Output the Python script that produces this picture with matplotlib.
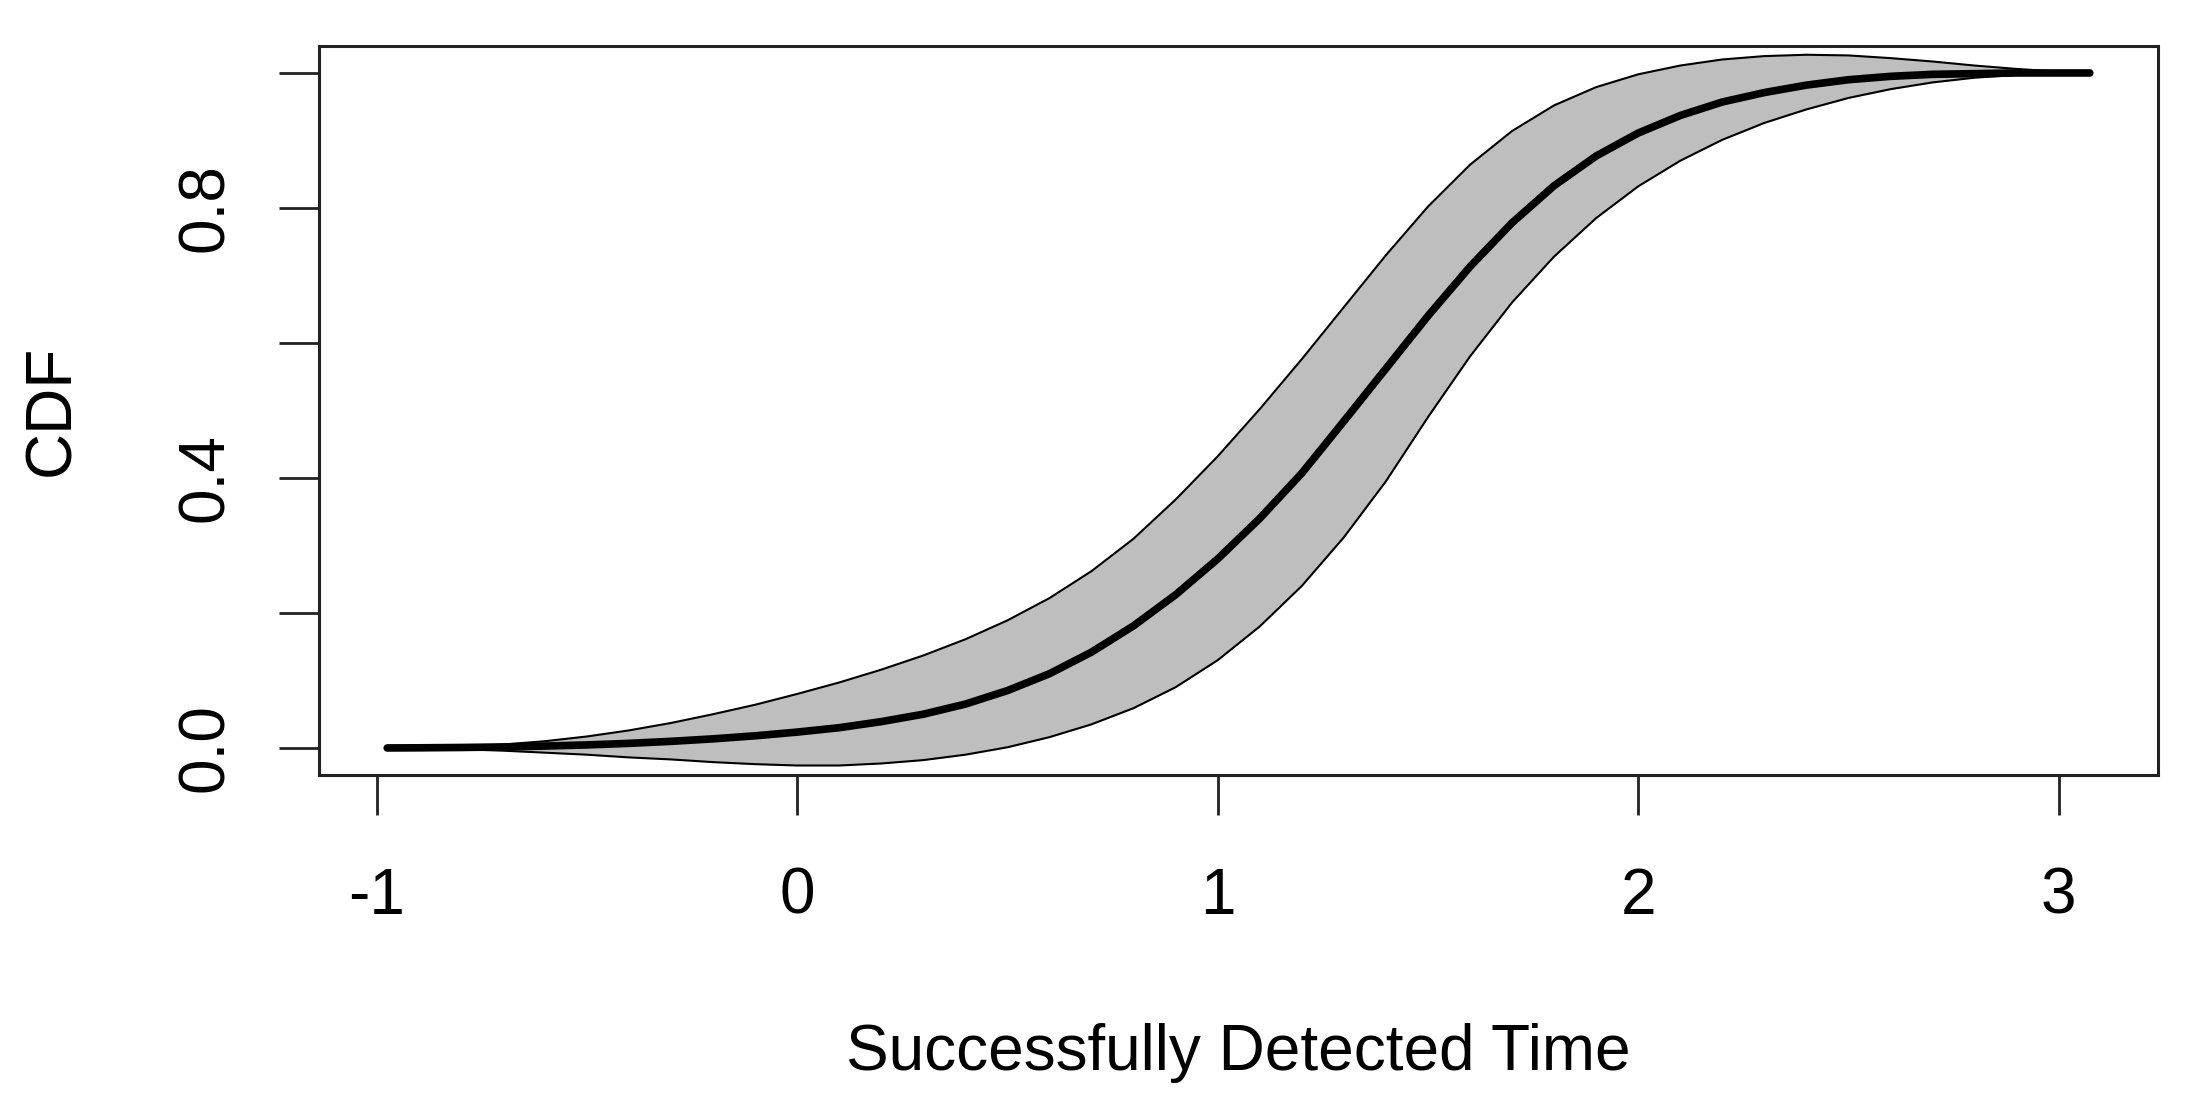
import numpy as np
import matplotlib
matplotlib.use("Agg")
import matplotlib.pyplot as plt

plt.rcParams["font.family"] = ["Liberation Sans", "DejaVu Sans"]

# Values
time = [-0.975, -0.9, -0.8, -0.7, -0.6, -0.5, -0.4, -0.3, -0.2, -0.1,
        0.0, 0.1, 0.2, 0.3, 0.4, 0.5, 0.6, 0.7, 0.8, 0.9,
        1.0, 1.1, 1.2, 1.3, 1.4, 1.5, 1.6, 1.7, 1.8, 1.9,
        2.0, 2.1, 2.2, 2.3, 2.4, 2.5, 2.6, 2.7, 2.8, 2.9,
        3.0, 3.074]
cdf_mean = [0.000, 0.0002, 0.0007, 0.0015, 0.0028, 0.0045, 0.0068, 0.0098, 0.0135, 0.018,
            0.0235, 0.030, 0.039, 0.050, 0.065, 0.085, 0.110, 0.142, 0.181, 0.227,
            0.280, 0.340, 0.407, 0.484, 0.562, 0.640, 0.713, 0.778, 0.833, 0.877,
            0.911, 0.937, 0.957, 0.971, 0.982, 0.990, 0.995, 0.998, 0.999, 1.000,
            1.000, 1.000]
cdf_upper = [0.000, 0.0005, 0.002, 0.005, 0.010, 0.017, 0.026, 0.037, 0.050, 0.064,
             0.080, 0.097, 0.116, 0.137, 0.161, 0.189, 0.222, 0.262, 0.310, 0.368,
             0.432, 0.502, 0.576, 0.653, 0.730, 0.802, 0.864, 0.914, 0.952, 0.979,
             0.998, 1.011, 1.020, 1.025, 1.027, 1.026, 1.022, 1.017, 1.011, 1.006,
             1.002, 1.000]
cdf_lower = [0.000, -0.0005, -0.002, -0.004, -0.007, -0.010, -0.014, -0.017, -0.021, -0.024,
             -0.026, -0.026, -0.023, -0.018, -0.010, 0.001, 0.016, 0.035, 0.059, 0.090,
             0.130, 0.180, 0.240, 0.312, 0.395, 0.490, 0.580, 0.660, 0.728, 0.785,
             0.832, 0.870, 0.901, 0.926, 0.946, 0.963, 0.976, 0.986, 0.993, 0.997,
             0.999, 1.000]

xticks = [-1, 0, 1, 2, 3]
yticks = [0.0, 0.2, 0.4, 0.6, 0.8, 1.0]
ytick_labels = ["0.0", "", "0.4", "", "0.8", ""]

fig = plt.figure(figsize=(21.87, 11.16), dpi=100)
ax = fig.add_axes([0.1459, 0.3056, 0.8408, 0.6532])

# confidence band
ax.fill_between(time, cdf_lower, cdf_upper, color="#bebebe", linewidth=0)
ax.plot(time, cdf_upper, color="black", linewidth=1.5)
ax.plot(time, cdf_lower, color="black", linewidth=1.5)
# mean curve
ax.plot(time, cdf_mean, color="black", linewidth=5.5, solid_capstyle="round")

# R-style 4% axis expansion
x0, x1 = min(time), max(time)
xr = x1 - x0
ax.set_xlim(x0 - 0.04 * xr, x1 + 0.04 * xr)
ax.set_ylim(-0.04, 1.04)

ax.set_xticks(xticks)
ax.set_xticklabels([str(t) for t in xticks])
ax.set_yticks(yticks)
ax.set_yticklabels(ytick_labels, rotation=90, va="center")

ax.tick_params(axis="both", direction="out", length=29, width=2, labelsize=46, color="#222222")
ax.tick_params(axis="x", pad=37)
ax.tick_params(axis="y", pad=31)
for s in ax.spines.values():
    s.set_linewidth(2.2)
    s.set_color("#222222")

ax.set_xlabel("Successfully Detected Time", fontsize=46)
ax.xaxis.set_label_coords(0.5, -0.381)
ax.xaxis.label.set_va("center")
ax.set_ylabel("CDF", fontsize=46)
ax.yaxis.set_label_coords(-0.1452, 0.5)
ax.yaxis.label.set_va("center")

fig.savefig("out.png", dpi=100, facecolor="white")
